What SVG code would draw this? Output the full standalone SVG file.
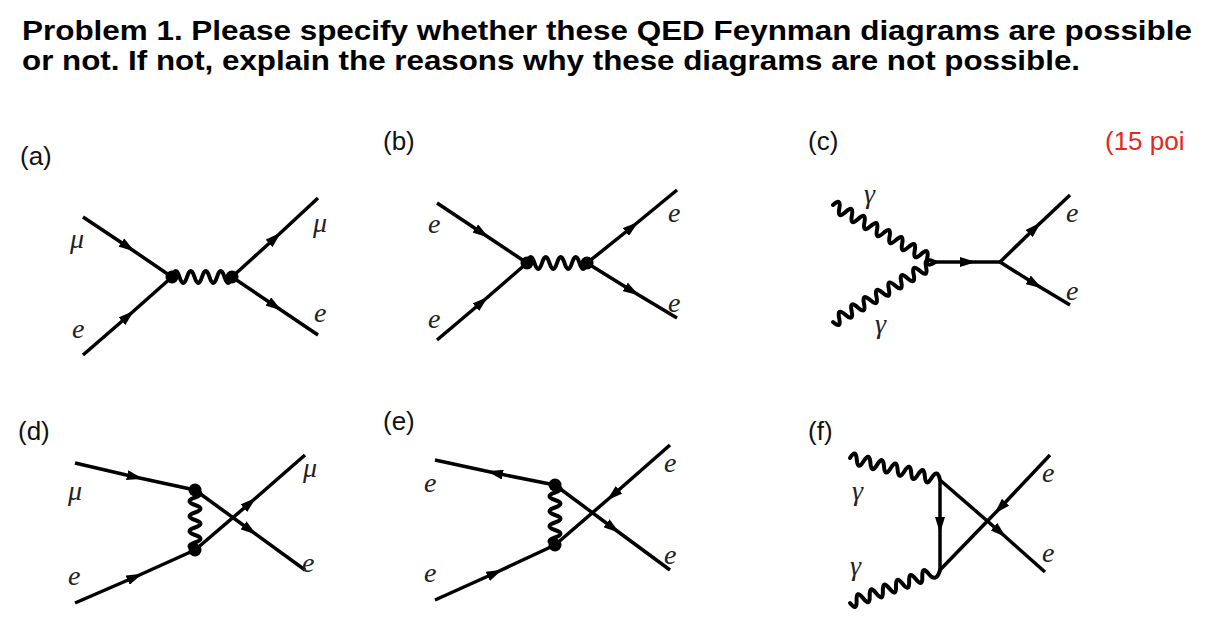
<svg xmlns="http://www.w3.org/2000/svg" width="1212" height="634" viewBox="0 0 1212 634">
<defs>
<style>
.t{font-family:"Liberation Sans",Arial,sans-serif;font-weight:bold;font-size:27px;fill:#000}
.lb{font-family:"Liberation Sans",Arial,sans-serif;font-size:26px;fill:#111}
.p{font-family:"Liberation Serif","Times New Roman",serif;font-style:italic;font-size:28px;fill:#222}
.f{stroke:#000;stroke-width:3.5;fill:none;marker-mid:url(#ar)}
.g{stroke:#000;stroke-width:4;fill:none;stroke-linecap:round}
</style>
<marker id="ar" markerUnits="userSpaceOnUse" markerWidth="16" markerHeight="10" refX="8" refY="5" orient="auto" viewBox="0 0 16 10"><path d="M0,0 L16,5 L0,10 z" fill="#000"/></marker>
</defs>
<rect width="1212" height="634" fill="#fff"/>
<text class="t" x="22" y="40" textLength="1170" lengthAdjust="spacingAndGlyphs">Problem 1. Please specify whether these QED Feynman diagrams are possible</text>
<text class="t" x="22" y="70" textLength="1058" lengthAdjust="spacingAndGlyphs">or not. If not, explain the reasons why these diagrams are not possible.</text>
<text class="lb" x="1105" y="150" style="fill:#e8261c">(15 poi</text>

<g id="a">
<text class="lb" x="20" y="165">(a)</text>
<g class="conn">
<polyline class="f" points="83,217 128,247 172,277"/>
<polyline class="f" points="83,355 128,316 172,277"/>
<polyline class="f" points="232,277 275,238 318,198"/>
<polyline class="f" points="232,277 275,306 318,335"/>
<path class="g" transform="translate(172,277)" d="M0,0 q3.75,-12 7.5,0 t7.5,0 t7.5,0 t7.5,0 t7.5,0 t7.5,0 t7.5,0 t7.5,0"/>
</g>
<circle cx="172" cy="277" r="6.5"/><circle cx="232" cy="277" r="6.5"/>
<text class="p" x="70" y="248">μ</text><text class="p" x="72" y="338">e</text>
<text class="p" x="313" y="232">μ</text><text class="p" x="314" y="322">e</text>
</g>

<g id="b">
<text class="lb" x="383" y="150">(b)</text>
<g class="conn">
<polyline class="f" points="437,203 482,233 527,263"/>
<polyline class="f" points="437,340 482,302 527,263"/>
<polyline class="f" points="587,263 632,227 677,190"/>
<polyline class="f" points="587,263 632,291 677,318"/>
<path class="g" transform="translate(527,263)" d="M0,0 q3.75,-12 7.5,0 t7.5,0 t7.5,0 t7.5,0 t7.5,0 t7.5,0 t7.5,0 t7.5,0"/>
</g>
<circle cx="527" cy="263" r="6.5"/><circle cx="587" cy="263" r="6.5"/>
<text class="p" x="428" y="233">e</text><text class="p" x="428" y="328">e</text>
<text class="p" x="668" y="222">e</text><text class="p" x="668" y="312">e</text>
</g>

<g id="c">
<text class="lb" x="808" y="150">(c)</text>
<g class="conn">
<path class="g" transform="translate(833,205) rotate(29.2)" d="M0,0 q3.6,-11 7.2,0 t7.2,0 t7.2,0 t7.2,0 t7.2,0 t7.2,0 t7.2,0 t7.2,0 t7.2,0 t7.2,0 t7.2,0 t7.2,0 t7.2,0 t7.2,0 t7.2,0 t9,0"/>
<path class="g" transform="translate(833,322) rotate(-30.5)" d="M0,0 q3.6,11 7.2,0 t7.2,0 t7.2,0 t7.2,0 t7.2,0 t7.2,0 t7.2,0 t7.2,0 t7.2,0 t7.2,0 t7.2,0 t7.2,0 t7.2,0 t7.2,0 t7.2,0 t10,0"/>
<polyline class="f" points="935,262 968,262 1000,262"/>
<polyline class="f" points="1000,262 1035,228 1070,195"/>
<polyline class="f" points="1000,262 1035,284 1070,305"/>
</g>
<text class="p" x="864" y="203">γ</text><text class="p" x="875" y="333">γ</text>
<text class="p" x="1066" y="222">e</text><text class="p" x="1066" y="300">e</text>
</g>

<g id="d">
<text class="lb" x="18" y="440">(d)</text>
<g class="conn">
<polyline class="f" points="75,463 135,477 195,490"/>
<polyline class="f" points="75,603 135,577 195,550"/>
<polyline class="f" points="195,490 250,530 305,570"/>
<polyline class="f" points="195,550 250,503 305,455"/>
<path class="g" transform="translate(195,490) rotate(90)" d="M0,0 q3.75,-11 7.5,0 t7.5,0 t7.5,0 t7.5,0 t7.5,0 t7.5,0 t7.5,0 t7.5,0"/>
</g>
<circle cx="195" cy="490" r="6.5"/><circle cx="195" cy="550" r="6.5"/>
<text class="p" x="68" y="500">μ</text><text class="p" x="68" y="585">e</text>
<text class="p" x="303" y="477">μ</text><text class="p" x="302" y="572">e</text>
</g>

<g id="e">
<text class="lb" x="383" y="430">(e)</text>
<g class="conn">
<polyline class="f" points="555,485 495,473 435,460"/>
<polyline class="f" points="435,600 495,573 555,545"/>
<polyline class="f" points="555,485 613,528 670,570"/>
<polyline class="f" points="670,445 613,495 555,545"/>
<path class="g" transform="translate(555,485) rotate(90)" d="M0,0 q3.75,-11 7.5,0 t7.5,0 t7.5,0 t7.5,0 t7.5,0 t7.5,0 t7.5,0 t7.5,0"/>
</g>
<circle cx="555" cy="485" r="6.5"/><circle cx="555" cy="545" r="6.5"/>
<text class="p" x="424" y="492">e</text><text class="p" x="424" y="582">e</text>
<text class="p" x="664" y="472">e</text><text class="p" x="664" y="564">e</text>
</g>

<g id="f">
<text class="lb" x="808" y="440">(f)</text>
<g class="conn">
<path class="g" transform="translate(850,458) rotate(13.7)" d="M0,0 q3.5,-11 7,0 t7,0 t7,0 t7,0 t7,0 t7,0 t7,0 t7,0 t7,0 t7,0 t7,0 t7,0 t8.6,0"/>
<path class="g" transform="translate(850,603) rotate(-20.1)" d="M0,0 q3.5,11 7,0 t7,0 t7,0 t7,0 t7,0 t7,0 t7,0 t7,0 t7,0 t7,0 t7,0 t7,0 t11.9,0"/>
<polyline class="f" points="940,480 940,525 940,570"/>
<polyline class="f" points="940,480 1000,532 1045,572"/>
<polyline class="f" points="1050,455 1000,508 940,570"/>
</g>
<text class="p" x="852" y="500">γ</text><text class="p" x="850" y="575">γ</text>
<text class="p" x="1042" y="482">e</text><text class="p" x="1042" y="562">e</text>
</g>
</svg>
